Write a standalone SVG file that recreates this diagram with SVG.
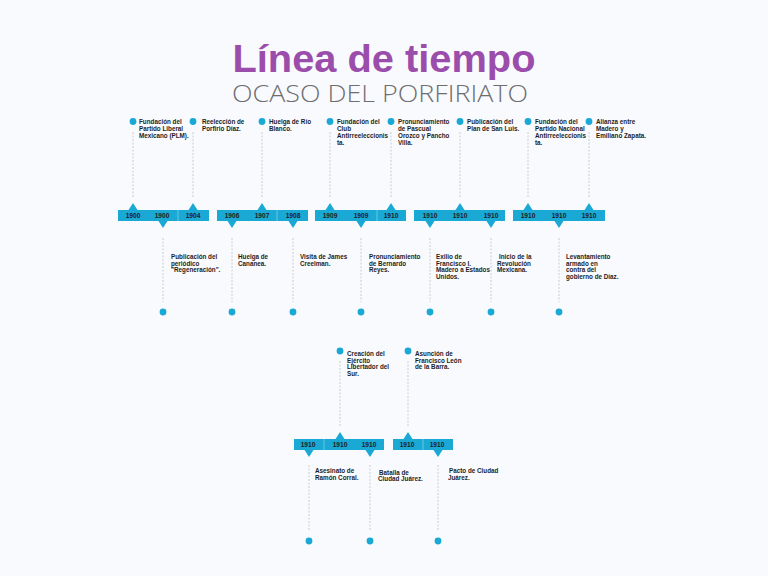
<svg xmlns="http://www.w3.org/2000/svg" width="768" height="576" viewBox="0 0 768 576">
<style>
.bg{fill:#f9fafd}
.bar{fill:#1aa8d4}
.div{stroke:#7fcde8;stroke-width:0.8}
.tri{fill:#1aa8d4}
.dot{fill:#1aa8d4}
.dash{stroke:#c9ccd2;stroke-width:1;stroke-dasharray:2 1.5;fill:none}
.yr{font-family:"Liberation Sans",Arial,sans-serif;font-size:6.6px;font-weight:bold;fill:#1d1d1f;text-anchor:middle}
.lbl{font-family:"Liberation Sans",Arial,sans-serif;font-size:6.3px;font-weight:bold;fill:#1d1d1f}
.title{font-family:"Liberation Sans",Arial,sans-serif;font-size:39px;font-weight:bold;fill:#9b4dab;text-anchor:middle}
.sub{font-family:"Open Sans","Liberation Sans",Arial,sans-serif;font-size:23px;font-weight:300;fill:#6e6e70;text-anchor:middle}
</style>
<rect class="bg" x="0" y="0" width="768" height="576"/>
<g id="title">
<text class="title" x="384" y="72" textLength="303" lengthAdjust="spacingAndGlyphs">Línea de tiempo</text>
<text class="sub" x="380" y="102" textLength="296" lengthAdjust="spacingAndGlyphs">OCASO DEL PORFIRIATO</text>
</g>
<g id="connectors">
<line class="dash" x1="133" y1="132" x2="133" y2="198"/>
<line class="dash" x1="193" y1="132" x2="193" y2="198"/>
<line class="dash" x1="262" y1="132" x2="262" y2="198"/>
<line class="dash" x1="330" y1="132" x2="330" y2="198"/>
<line class="dash" x1="391" y1="132" x2="391" y2="198"/>
<line class="dash" x1="460" y1="132" x2="460" y2="198"/>
<line class="dash" x1="528" y1="132" x2="528" y2="198"/>
<line class="dash" x1="589" y1="132" x2="589" y2="198"/>
<line class="dash" x1="163" y1="238" x2="163" y2="302"/>
<line class="dash" x1="232" y1="238" x2="232" y2="302"/>
<line class="dash" x1="293" y1="238" x2="293" y2="302"/>
<line class="dash" x1="361" y1="238" x2="361" y2="302"/>
<line class="dash" x1="430" y1="238" x2="430" y2="302"/>
<line class="dash" x1="491" y1="238" x2="491" y2="302"/>
<line class="dash" x1="559" y1="238" x2="559" y2="302"/>
<line class="dash" x1="340" y1="361" x2="340" y2="427"/>
<line class="dash" x1="408" y1="361" x2="408" y2="427"/>
<line class="dash" x1="309" y1="465" x2="309" y2="531"/>
<line class="dash" x1="370" y1="465" x2="370" y2="531"/>
<line class="dash" x1="438" y1="465" x2="438" y2="531"/>
</g>
<g id="bar-1900-1904">
<rect class="bar" x="118" y="210" width="91" height="11"/>
<line class="div" x1="178" y1="210" x2="178" y2="221"/>
<polygon class="tri" points="128.5,210 137.5,210 133,203"/>
<polygon class="tri" points="158.5,221 167.5,221 163,228"/>
<polygon class="tri" points="188.5,210 197.5,210 193,203"/>
<text class="yr" x="133" y="218">1900</text>
<text class="yr" x="162" y="218">1900</text>
<text class="yr" x="193" y="218">1904</text>
</g>
<g id="bar-1906-1908">
<rect class="bar" x="217" y="210" width="91" height="11"/>
<line class="div" x1="277" y1="210" x2="277" y2="221"/>
<polygon class="tri" points="227.5,221 236.5,221 232,228"/>
<polygon class="tri" points="257.5,210 266.5,210 262,203"/>
<polygon class="tri" points="288.5,221 297.5,221 293,228"/>
<text class="yr" x="232" y="218">1906</text>
<text class="yr" x="262" y="218">1907</text>
<text class="yr" x="293" y="218">1908</text>
</g>
<g id="bar-1909-1910">
<rect class="bar" x="315" y="210" width="91" height="11"/>
<line class="div" x1="377" y1="210" x2="377" y2="221"/>
<polygon class="tri" points="325.5,210 334.5,210 330,203"/>
<polygon class="tri" points="356.5,221 365.5,221 361,228"/>
<polygon class="tri" points="386.5,210 395.5,210 391,203"/>
<text class="yr" x="330" y="218">1909</text>
<text class="yr" x="361" y="218">1909</text>
<text class="yr" x="391" y="218">1910</text>
</g>
<g id="bar-1910-a">
<rect class="bar" x="414" y="210" width="91" height="11"/>
<polygon class="tri" points="425.5,221 434.5,221 430,228"/>
<polygon class="tri" points="455.5,210 464.5,210 460,203"/>
<polygon class="tri" points="486.5,221 495.5,221 491,228"/>
<text class="yr" x="430" y="218">1910</text>
<text class="yr" x="460" y="218">1910</text>
<text class="yr" x="491" y="218">1910</text>
</g>
<g id="bar-1910-b">
<rect class="bar" x="513" y="210" width="92" height="11"/>
<polygon class="tri" points="523.5,210 532.5,210 528,203"/>
<polygon class="tri" points="554.5,221 563.5,221 559,228"/>
<polygon class="tri" points="584.5,210 593.5,210 589,203"/>
<text class="yr" x="528" y="218">1910</text>
<text class="yr" x="559" y="218">1910</text>
<text class="yr" x="589" y="218">1910</text>
</g>
<g id="bar-1910-c">
<rect class="bar" x="294" y="439" width="90" height="11"/>
<line class="div" x1="324" y1="439" x2="324" y2="450"/>
<polygon class="tri" points="304.5,450 313.5,450 309,457"/>
<polygon class="tri" points="335.5,439 344.5,439 340,432"/>
<polygon class="tri" points="365.5,450 374.5,450 370,457"/>
<text class="yr" x="308" y="447">1910</text>
<text class="yr" x="340" y="447">1910</text>
<text class="yr" x="369" y="447">1910</text>
</g>
<g id="bar-1910-d">
<rect class="bar" x="393" y="439" width="60" height="11"/>
<line class="div" x1="423" y1="439" x2="423" y2="450"/>
<polygon class="tri" points="403.5,439 412.5,439 408,432"/>
<polygon class="tri" points="433.5,450 442.5,450 438,457"/>
<text class="yr" x="407" y="447">1910</text>
<text class="yr" x="437" y="447">1910</text>
</g>
<g id="ev-plm"><circle class="dot" cx="133" cy="121.5" r="3.4"/><text class="lbl" x="139" y="123.5"><tspan x="139">Fundación del</tspan><tspan x="139" dy="7">Partido Liberal</tspan><tspan x="139" dy="7">Mexicano (PLM).</tspan></text></g>
<g id="ev-reeleccion"><circle class="dot" cx="193" cy="121.5" r="3.4"/><text class="lbl" x="202" y="123.5"><tspan x="202">Reelección de</tspan><tspan x="202" dy="7">Porfirio Díaz.</tspan></text></g>
<g id="ev-rioblanco"><circle class="dot" cx="262" cy="121.5" r="3.4"/><text class="lbl" x="269" y="123.5"><tspan x="269">Huelga de Río</tspan><tspan x="269" dy="7">Blanco.</tspan></text></g>
<g id="ev-club"><circle class="dot" cx="330" cy="121.5" r="3.4"/><text class="lbl" x="337" y="123.5"><tspan x="337">Fundación del</tspan><tspan x="337" dy="7">Club</tspan><tspan x="337" dy="7">Antirreeleccionis</tspan><tspan x="337" dy="7">ta.</tspan></text></g>
<g id="ev-orozco"><circle class="dot" cx="391" cy="121.5" r="3.4"/><text class="lbl" x="398" y="123.5"><tspan x="398">Pronunciamiento</tspan><tspan x="398" dy="7">de Pascual</tspan><tspan x="398" dy="7">Orozco y Pancho</tspan><tspan x="398" dy="7">Villa.</tspan></text></g>
<g id="ev-sanluis"><circle class="dot" cx="460" cy="121.5" r="3.4"/><text class="lbl" x="467" y="123.5"><tspan x="467">Publicación del</tspan><tspan x="467" dy="7">Plan de San Luis.</tspan></text></g>
<g id="ev-partido"><circle class="dot" cx="528" cy="121.5" r="3.4"/><text class="lbl" x="535" y="123.5"><tspan x="535">Fundación del</tspan><tspan x="535" dy="7">Partido Nacional</tspan><tspan x="535" dy="7">Antirreeleccionis</tspan><tspan x="535" dy="7">ta.</tspan></text></g>
<g id="ev-alianza"><circle class="dot" cx="589" cy="121.5" r="3.4"/><text class="lbl" x="596" y="123.5"><tspan x="596">Alianza entre</tspan><tspan x="596" dy="7">Madero y</tspan><tspan x="596" dy="7">Emiliano Zapata.</tspan></text></g>
<g id="ev-regeneracion"><circle class="dot" cx="163" cy="312" r="3.4"/><text class="lbl" x="171" y="259"><tspan x="171">Publicación del</tspan><tspan x="171" dy="6.6">periódico</tspan><tspan x="171" dy="6.6">"Regeneración".</tspan></text></g>
<g id="ev-cananea"><circle class="dot" cx="232" cy="312" r="3.4"/><text class="lbl" x="238" y="259"><tspan x="238">Huelga de</tspan><tspan x="238" dy="6.6">Cananea.</tspan></text></g>
<g id="ev-creelman"><circle class="dot" cx="293" cy="312" r="3.4"/><text class="lbl" x="300" y="259"><tspan x="300">Visita de James</tspan><tspan x="300" dy="6.6">Creelman.</tspan></text></g>
<g id="ev-reyes"><circle class="dot" cx="361" cy="312" r="3.4"/><text class="lbl" x="369" y="259"><tspan x="369">Pronunciamiento</tspan><tspan x="369" dy="6.6">de Bernardo</tspan><tspan x="369" dy="6.6">Reyes.</tspan></text></g>
<g id="ev-exilio"><circle class="dot" cx="430" cy="312" r="3.4"/><text class="lbl" x="436" y="259"><tspan x="436">Exilio de</tspan><tspan x="436" dy="6.6">Francisco I.</tspan><tspan x="436" dy="6.6">Madero a Estados</tspan><tspan x="436" dy="6.6">Unidos.</tspan></text></g>
<g id="ev-inicio"><circle class="dot" cx="491" cy="312" r="3.4"/><text class="lbl" x="497" y="259"><tspan x="499">Inicio de la</tspan><tspan x="497" dy="6.6">Revolución</tspan><tspan x="497" dy="6.6">Mexicana.</tspan></text></g>
<g id="ev-levantamiento"><circle class="dot" cx="559" cy="312" r="3.4"/><text class="lbl" x="566" y="259"><tspan x="566">Levantamiento</tspan><tspan x="566" dy="6.6">armado en</tspan><tspan x="566" dy="6.6">contra del</tspan><tspan x="566" dy="6.6">gobierno de Díaz.</tspan></text></g>
<g id="ev-ejercito"><circle class="dot" cx="340" cy="351" r="3.4"/><text class="lbl" x="347" y="356"><tspan x="347">Creación del</tspan><tspan x="347" dy="6.6">Ejército</tspan><tspan x="347" dy="6.6">Libertador del</tspan><tspan x="347" dy="6.6">Sur.</tspan></text></g>
<g id="ev-delabarra"><circle class="dot" cx="408" cy="351" r="3.4"/><text class="lbl" x="415" y="356"><tspan x="415">Asunción de</tspan><tspan x="415" dy="6.6">Francisco León</tspan><tspan x="415" dy="6.6">de la Barra.</tspan></text></g>
<g id="ev-corral"><circle class="dot" cx="309" cy="541" r="3.4"/><text class="lbl" x="315" y="473"><tspan x="315">Asesinato de</tspan><tspan x="315" dy="6.6">Ramón Corral.</tspan></text></g>
<g id="ev-juarez"><circle class="dot" cx="370" cy="541" r="3.4"/><text class="lbl" x="378" y="474.5"><tspan x="379">Batalla de</tspan><tspan x="378" dy="6.6">Ciudad Juárez.</tspan></text></g>
<g id="ev-pacto"><circle class="dot" cx="438" cy="541" r="3.4"/><text class="lbl" x="448" y="473"><tspan x="449">Pacto de Ciudad</tspan><tspan x="448" dy="6.6">Juárez.</tspan></text></g>
</svg>
